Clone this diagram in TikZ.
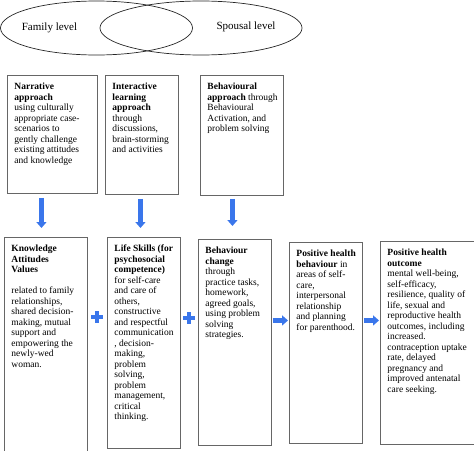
\documentclass[tikz,border=0pt]{standalone}
\usepackage{fontspec}
\setmainfont{Liberation Serif}
\usetikzlibrary{shapes.geometric,arrows.meta}
\definecolor{fatblue}{RGB}{58,118,235}
\newcommand{\stagetext}[3]{\parbox[c][#2][t]{#1}{\begin{tabular}[t]{@{}l@{}}#3\end{tabular}}}

\begin{document}
\begin{tikzpicture}[
			x=1pt, y=-1pt,
			stage/.style = {draw=black!60, line width=0.9pt, inner xsep=7pt, inner ysep=7pt, anchor=north west, font=\fontsize{9.5}{10.5}\selectfont},
			level/.style = {draw=black!85, ellipse, line width=0.7pt, inner sep=0pt},
			every label/.style = {font=\fontsize{11}{13}\selectfont},
			fat/.style = {draw=fatblue, line width=4.5pt, -{Triangle[width=10pt,length=6pt]}},
			plusmark/.style = {draw=fatblue, line width=4pt}
		]
			\useasboundingbox (0,0) rectangle (474,450);
			% the two levels
			\node[level, minimum width=192pt, minimum height=54pt, label={[xshift=-47pt]center:Family level}] (family) at (96.5,28) {};
			\node[level, minimum width=202pt, minimum height=54pt, label={[xshift=45pt,yshift=1pt]center:Spousal level}] (spousal) at (201,28) {};
			% approaches
			\node[stage] (narr) at (7,75) {\stagetext{76pt}{104pt}{\textbf{Narrative}\\ \textbf{approach}\\ using culturally\\ appropriate case-\\ scenarios to\\ gently challenge\\ existing attitudes\\ and knowledge}};
			\node[stage] (lint) at (105,75) {\stagetext{59pt}{105pt}{\textbf{Interactive}\\ \textbf{learning}\\ \textbf{approach}\\ through\\ discussions,\\ brain-storming\\ and activities}};
			\node[stage] (behap) at (200,75) {\stagetext{69pt}{106pt}{\textbf{Behavioural}\\ \textbf{approach} through\\ Behavioural\\ Activation, and\\ problem solving}};
			% pathway
			\node[stage] (know) at (4,237) {\stagetext{69pt}{204pt}{\textbf{Knowledge}\\ \textbf{Attitudes}\\ \textbf{Values}\\ \\ related to family\\ relationships,\\ shared decision-\\ making, mutual\\ support and\\ empowering the\\ newly-wed\\ woman.}};
			\node[stage] (life) at (107,237) {\stagetext{59pt}{197pt}{\textbf{Life Skills (for}\\ \textbf{psychosocial}\\ \textbf{competence)}\\ for self-care\\ and care of\\ others,\\ constructive\\ and respectful\\ communication\\ , decision-\\ making,\\ problem\\ solving,\\ problem\\ management,\\ critical\\ thinking.}};
			\node[stage] (chg) at (198,239) {\stagetext{59pt}{192pt}{\textbf{Behaviour}\\ \textbf{change}\\ through\\ practice tasks,\\ homework,\\ agreed goals,\\ using problem\\ solving\\ strategies.}};
			\node[stage] (pos) at (289,242) {\stagetext{59pt}{187pt}{\textbf{Positive health}\\ \textbf{behaviour} in\\ areas of self-\\ care,\\ interpersonal\\ relationship\\ and planning\\ for parenthood.}};
			\node[stage] (outc) at (380,241) {\stagetext{84pt}{189pt}{\textbf{Positive health}\\ \textbf{outcome}\\ mental well-being,\\ self-efficacy,\\ resilience, quality of\\ life, sexual and\\ reproductive health\\ outcomes, including\\ increased.\\ contraception uptake\\ rate, delayed\\ pregnancy and\\ improved antenatal\\ care seeking.}};
			% arrows
			\draw[fat] ([xshift=-11pt,yshift=-4pt]narr.south) -- ([xshift=-4.5pt,yshift=9pt]know.north);
			\draw[fat] ([xshift=-1.5pt,yshift=-4pt]lint.south) -- ([xshift=-3.5pt,yshift=9pt]life.north);
			\draw[fat] ([xshift=-9.5pt,yshift=-3pt]behap.south) -- ([xshift=-2.5pt,yshift=13pt]chg.north);
			\draw[fat] ([xshift=1pt,yshift=22pt]chg.east) -- ([xshift=-1pt,yshift=22.5pt]pos.west);
			\draw[fat] ([xshift=1pt,yshift=22.5pt]pos.east) -- ([xshift=-1pt,yshift=22.5pt]outc.west);
			\draw[plusmark] (97,311) -- (97,323) (91,317) -- (103,317);
			\draw[plusmark] (189,312) -- (189,324) (183,318) -- (195,318);
		\end{tikzpicture}
\end{document}
